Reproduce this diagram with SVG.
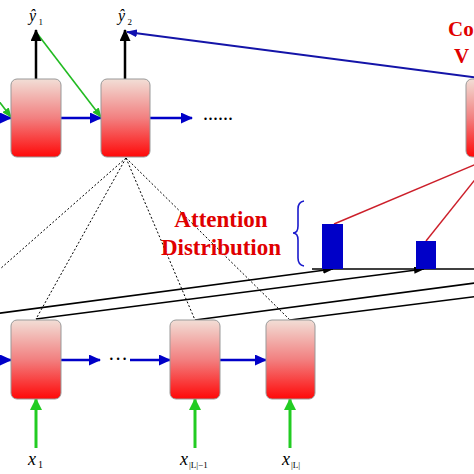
<svg xmlns="http://www.w3.org/2000/svg" width="474" height="474" viewBox="0 0 474 474">
<defs>
<linearGradient id="cell" x1="0" y1="0" x2="0" y2="1">
<stop offset="0" stop-color="#f2ded6"/>
<stop offset="0.5" stop-color="#f28080"/>
<stop offset="1" stop-color="#ff0808"/>
</linearGradient>
<marker id="mBlue" markerWidth="12" markerHeight="11" refX="11" refY="5.5" orient="auto" markerUnits="userSpaceOnUse"><path d="M0,0 L12,5.5 L0,11 z" fill="#0000c8"/></marker>
<marker id="mBlueS" markerWidth="11" markerHeight="8" refX="10" refY="4" orient="auto" markerUnits="userSpaceOnUse"><path d="M0,0 L11,4 L0,8 z" fill="#1010b0"/></marker>
<marker id="mBlack" markerWidth="12" markerHeight="11" refX="11" refY="5.5" orient="auto" markerUnits="userSpaceOnUse"><path d="M0,0 L12,5.5 L0,11 z" fill="#000"/></marker>
<marker id="mBlackS" markerWidth="11" markerHeight="7" refX="10" refY="3.5" orient="auto" markerUnits="userSpaceOnUse"><path d="M0,0 L11,3.5 L0,7 z" fill="#000"/></marker>
<marker id="mGreen" markerWidth="12" markerHeight="12" refX="11" refY="6" orient="auto" markerUnits="userSpaceOnUse"><path d="M0,0 L12,6 L0,12 z" fill="#22cc22"/></marker>
<marker id="mGreenS" markerWidth="10" markerHeight="8" refX="9" refY="4" orient="auto" markerUnits="userSpaceOnUse"><path d="M0,0 L10,4 L0,8 z" fill="#22bb22"/></marker>
</defs>
<style>
.cell{fill:url(#cell);stroke:#999;stroke-width:1}
.blue{stroke:#0000c8;stroke-width:2.5;fill:none;marker-end:url(#mBlue)}
.blk{stroke:#000;stroke-width:2.5;fill:none;marker-end:url(#mBlack)}
.grn{stroke:#22cc22;stroke-width:3;fill:none;marker-end:url(#mGreen)}
.grnS{stroke:#22bb22;stroke-width:1.6;fill:none;marker-end:url(#mGreenS)}
.att{stroke:#000;stroke-width:1.6;fill:none}
.dot{stroke:#000;stroke-width:1;stroke-dasharray:2,2;fill:none}
.red{stroke:#cc1f2a;stroke-width:1.4;fill:none}
.bar{fill:#0000c8}
.lbl{font-family:"Liberation Serif",serif;fill:#000}
.it{font-style:italic}
.lab{font-family:"Liberation Serif",serif;font-weight:bold;fill:#e00000;font-size:23px}
.dots{font-family:"Liberation Serif",serif;fill:#000;font-size:20px}
</style>

<g id="connectors">
<line class="dot" x1="126" y1="158" x2="-59" y2="321"/>
<line class="dot" x1="126" y1="158" x2="36" y2="319"/>
<line class="dot" x1="126" y1="158" x2="195" y2="320"/>
<line class="dot" x1="126" y1="158" x2="290" y2="320"/>
<line class="att" x1="-59" y1="321" x2="333" y2="269" marker-end="url(#mBlackS)"/>
<line class="att" x1="36" y1="319" x2="424" y2="269" marker-end="url(#mBlackS)"/>
<line class="att" x1="195" y1="320" x2="520" y2="277"/>
<line class="att" x1="290" y1="320" x2="520" y2="291"/>
<line class="att" x1="312" y1="269" x2="474" y2="269"/>
<line class="red" x1="493" y1="157" x2="334" y2="224"/>
<line class="red" x1="493" y1="157" x2="426" y2="241"/>
<line x1="480" y1="78" x2="127" y2="32" stroke="#1414a8" stroke-width="1.8" marker-end="url(#mBlueS)"/>
<line class="blue" x1="-20" y1="118" x2="11" y2="118"/>
<line class="grnS" x1="-54" y1="32" x2="11" y2="117"/>
<line class="blue" x1="61" y1="118" x2="101" y2="118"/>
<line class="grnS" x1="36" y1="32" x2="101" y2="117"/>
<line class="blue" x1="150" y1="118" x2="192" y2="118"/>
<line class="blk" x1="36" y1="79" x2="36" y2="30"/>
<line class="blk" x1="125" y1="79" x2="125" y2="30"/>
<line class="blue" x1="-20" y1="360" x2="11" y2="360"/>
<line class="blue" x1="61" y1="360" x2="100" y2="360"/>
<line class="blue" x1="130" y1="360" x2="170" y2="360"/>
<line class="blue" x1="220" y1="360" x2="266" y2="360"/>
<line class="grn" x1="36" y1="448" x2="36" y2="399"/>
<line class="grn" x1="195" y1="448" x2="195" y2="399"/>
<line class="grn" x1="290" y1="448" x2="290" y2="399"/>
</g>

<g id="decoder1"><rect class="cell" x="11" y="79" width="50" height="78" rx="6"/></g>
<g id="decoder2"><rect class="cell" x="101" y="79" width="49" height="78" rx="6"/></g>
<g id="decoderDots"><text class="dots" x="203" y="120">......</text></g>
<g id="contextVector">
<rect class="cell" x="466" y="79" width="50" height="78" rx="6"/>
<text class="lab" x="448" y="36" style="font-size:21px">Co</text>
<text class="lab" x="454" y="63" style="font-size:21px">V</text>
</g>

<g id="yhat1">
<text class="lbl" font-size="16"><tspan class="it" x="29" y="21">ŷ</tspan><tspan x="38.5" y="25" font-size="9">1</tspan></text>
</g>
<g id="yhat2">
<text class="lbl" font-size="16"><tspan class="it" x="118" y="21">ŷ</tspan><tspan x="127.5" y="25" font-size="9">2</tspan></text>
</g>

<g id="attention">
<rect class="bar" x="322" y="224" width="21" height="45"/>
<rect class="bar" x="416" y="241" width="20" height="28"/>
<path d="M304,201 Q298,202 298,209 L298,226 Q298,233 293,233 Q298,233 298,240 L298,258 Q298,265 304,266" fill="none" stroke="#1a1acc" stroke-width="1.6"/>
<text class="lab" x="221" y="227" text-anchor="middle">Attention</text>
<text class="lab" x="221" y="255" text-anchor="middle">Distribution</text>
</g>

<g id="encoder1"><rect class="cell" x="11" y="320" width="50" height="79" rx="6"/></g>
<g id="encoderDots"><text class="dots" x="108" y="366">···</text></g>
<g id="encoderL1"><rect class="cell" x="170" y="320" width="50" height="79" rx="6"/></g>
<g id="encoderL"><rect class="cell" x="266" y="320" width="49" height="79" rx="6"/></g>

<g id="x1">
<text class="lbl" font-size="18"><tspan class="it" x="28" y="465">x</tspan><tspan x="38" y="468" font-size="10">1</tspan></text>
</g>
<g id="xL1">
<text class="lbl" font-size="18"><tspan class="it" x="180" y="465">x</tspan><tspan x="189" y="468" font-size="9">|L|−1</tspan></text>
</g>
<g id="xL">
<text class="lbl" font-size="18"><tspan class="it" x="282" y="465">x</tspan><tspan x="291" y="468" font-size="9">|L|</tspan></text>
</g>
</svg>
